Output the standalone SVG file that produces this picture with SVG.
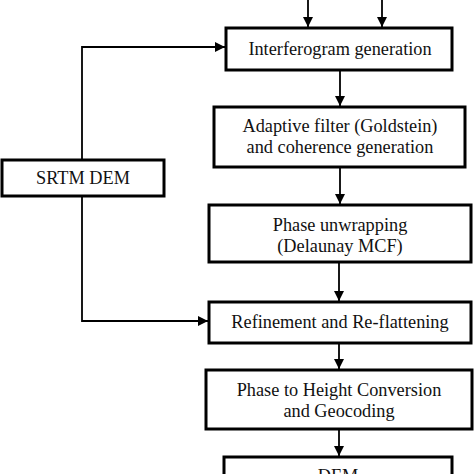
<svg xmlns="http://www.w3.org/2000/svg" width="474" height="474" viewBox="0 0 474 474">
<style>
.box{fill:#fff;stroke:#000;stroke-width:3}
.t{font-family:"Liberation Serif","Times New Roman",serif;font-size:18.3px;fill:#111;text-anchor:middle}
.c{fill:none;stroke:#000;stroke-width:1.8}
</style>
<defs>
<marker id="ah" viewBox="0 0 10 10" refX="10" refY="5" markerWidth="10" markerHeight="10" markerUnits="userSpaceOnUse" orient="auto">
<path d="M0,0 L10,5 L0,10 Z" fill="#000"/>
</marker>
</defs>
<rect width="474" height="474" fill="#fff"/>
<g id="connectors">
<line class="c" x1="308" y1="0" x2="308" y2="27" marker-end="url(#ah)"/>
<line class="c" x1="382" y1="0" x2="382" y2="27" marker-end="url(#ah)"/>
<line class="c" x1="340" y1="70" x2="340" y2="106" marker-end="url(#ah)"/>
<line class="c" x1="340" y1="167" x2="340" y2="204" marker-end="url(#ah)"/>
<line class="c" x1="339" y1="262" x2="339" y2="301" marker-end="url(#ah)"/>
<line class="c" x1="339" y1="343" x2="339" y2="369" marker-end="url(#ah)"/>
<line class="c" x1="339" y1="429" x2="339" y2="456" marker-end="url(#ah)"/>
<polyline class="c" points="82,160 82,47 225,47" marker-end="url(#ah)"/>
<polyline class="c" points="82,196 82,321 208,321" marker-end="url(#ah)"/>
</g>
<g id="interferogram">
<rect class="box" x="226" y="28" width="226" height="42"/>
<text class="t" x="340" y="55">Interferogram generation</text>
</g>
<g id="adaptive">
<rect class="box" x="214" y="107" width="251" height="60"/>
<text class="t" x="340" y="132">Adaptive filter (Goldstein)</text>
<text class="t" x="340" y="153">and coherence generation</text>
</g>
<g id="srtm">
<rect class="box" x="2" y="160" width="162" height="36"/>
<text class="t" x="83" y="184">SRTM DEM</text>
</g>
<g id="unwrap">
<rect class="box" x="209" y="205" width="262" height="57"/>
<text class="t" x="340" y="231">Phase unwrapping</text>
<text class="t" x="340" y="252">(Delaunay MCF)</text>
</g>
<g id="refine">
<rect class="box" x="209" y="302" width="262" height="41"/>
<text class="t" x="340" y="328">Refinement and Re-flattening</text>
</g>
<g id="height">
<rect class="box" x="206" y="370" width="266" height="59"/>
<text class="t" x="339" y="396">Phase to Height Conversion</text>
<text class="t" x="339" y="417">and Geocoding</text>
</g>
<g id="dem">
<rect class="box" x="224" y="457" width="228" height="40"/>
<text class="t" x="338" y="482">DEM</text>
</g>
</svg>
